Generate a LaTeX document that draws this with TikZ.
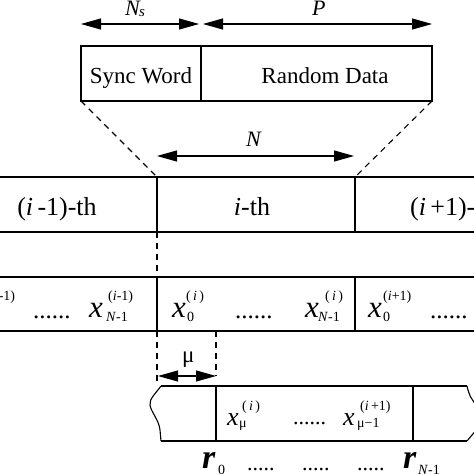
\documentclass[tikz,border=0pt]{standalone}
\usepackage{fontspec}
\setmainfont{Liberation Serif}
\usetikzlibrary{arrows.meta}
\begin{document}
\begin{tikzpicture}[x=1pt,y=-1pt,
  ln/.style={line width=1.1pt},
  dsh/.style={line width=1.1pt,dash pattern=on 6pt off 5pt},
  dimarrow/.style={line width=1.1pt,{Triangle[length=20pt,width=11pt]}-{Triangle[length=20pt,width=11pt]}},
  txt/.style={inner sep=0pt,anchor=base,font=\fontsize{23}{23}\selectfont},
  rowtxt/.style={inner sep=0pt,anchor=base,font=\fontsize{26}{26}\selectfont},
  lab/.style={inner sep=0pt,anchor=base west,font=\fontsize{22}{22}\selectfont\itshape},
  big/.style={inner sep=0pt,anchor=base west,font=\fontsize{31}{31}\selectfont\itshape},
  mid/.style={inner sep=0pt,anchor=base west,font=\fontsize{26}{26}\selectfont\itshape},
  scr/.style={inner sep=0pt,anchor=base west,font=\fontsize{14}{14}\selectfont},
  rr/.style={inner sep=0pt,anchor=base west,font=\fontsize{34}{34}\selectfont\bfseries\itshape},
  dots/.style={inner sep=0pt,anchor=base west,font=\fontsize{#1}{#1}\selectfont},
]
\useasboundingbox (0,0) rectangle (474,474);
\fill[white] (0,0) rectangle (474,474);

% ---------- top frame ----------
\node[draw,ln,minimum width=120pt,minimum height=55pt,inner sep=0pt,outer sep=0pt,anchor=north west] (sync) at (81,46) {};
\node[draw,ln,minimum width=231pt,minimum height=55pt,inner sep=0pt,outer sep=0pt,anchor=north west] (data) at (201,46) {};
\node[txt] (synct) at (141,83) {Sync Word};
\node[txt] (datat) at (325,83) {Random Data};

% dimension arrows on top
\coordinate (ns1) at (81,24);
\coordinate (ns2) at (199,24);
\coordinate (p1) at (203,24);
\coordinate (p2) at (432,24);
\draw[dimarrow] (ns1) -- (ns2);
\draw[dimarrow] (p1) -- (p2);
\node[lab] (nsl) at (125,15) {N};
\node[inner sep=0pt,anchor=base west,font=\fontsize{15}{15}\selectfont\itshape] (nss) at (139,16) {s};
\node[lab] (pl) at (312,15) {P};

% ---------- row 1 : frames ----------
\coordinate (r1tl) at (0,177);
\coordinate (r1tr) at (474,177);
\coordinate (r1bl) at (0,232);
\coordinate (r1br) at (474,232);
\coordinate (a1) at (157,177);
\coordinate (a2) at (157,232);
\coordinate (b1) at (355,177);
\coordinate (b2) at (355,232);
\draw[ln] (r1tl) -- (r1tr);
\draw[ln] (r1bl) -- (r1br);
\draw[ln] (a1) -- (a2);
\draw[ln] (b1) -- (b2);
\draw[dsh] (sync.south west) -- (a1);
\draw[dsh] (data.south east) -- (b1);
\coordinate (n1) at (157,156);
\coordinate (n2) at (354,156);
\draw[dimarrow] (n1) -- (n2);
\node[lab] (nl) at (246,146) {N};
\node[rowtxt] (f1) at (57,215) {(\textit{i}\,-1)-th};
\node[rowtxt] (f2) at (252,215) {\textit{i}-th};
\node[rowtxt,anchor=base west] (f3) at (410,215) {(\textit{i}\,+1)-th};

% ---------- row 2 : symbols ----------
\coordinate (c1) at (157,277);
\coordinate (c2) at (157,331);
\coordinate (d1) at (355,277);
\coordinate (d2) at (355,331);
\coordinate (r2tl) at (0,277);
\coordinate (r2tr) at (474,277);
\coordinate (r2bl) at (0,331);
\coordinate (r2br) at (474,331);
\draw[dsh] (a2) -- (c1);
\draw[ln] (r2tl) -- (r2tr);
\draw[ln] (r2bl) -- (r2br);
\draw[ln] (c1) -- (c2);
\draw[ln] (d1) -- (d2);

\node[big] (xa) at (-29,317) {x};
\node[scr] (xas) at (-10,300) {(\textit{i}-1)};
\node[scr] (xab) at (-10,321) {0};
\node[dots=25] (dt1) at (33,318) {......};
\node[big] (xb) at (89,317) {x};
\node[scr] (xbs) at (108,300) {(\textit{i}-1)};
\node[scr] (xbb) at (106,321) {\textit{N}-1};
\node[big] (xc) at (172,317) {x};
\node[scr] (xcs) at (186,300) {(\,\textit{i}\,)};
\node[scr] (xcb) at (187,321) {0};
\node[dots=25] (dt2) at (235,318) {......};
\node[big] (xd) at (305,317) {x};
\node[scr] (xds) at (325,300) {(\,\textit{i}\,)};
\node[scr] (xdb) at (318,321) {\textit{N}-1};
\node[big] (xe) at (368,317) {x};
\node[scr] (xes) at (383,300) {(\textit{i}+1)};
\node[scr] (xeb) at (383,321) {0};
\node[dots=25] (dt3) at (430,318) {......};

% ---------- mu offset ----------
\coordinate (e1) at (157,382);
\coordinate (g1) at (216,331);
\coordinate (g2) at (216,376);
\draw[dsh] (c2) -- (e1);
\draw[dsh] (g1) -- (g2);
\coordinate (m1) at (158,376);
\draw[dimarrow] (m1) -- (g2);
\node[inner sep=0pt,anchor=base west,font=\fontsize{23}{23}\selectfont] (mul) at (182,362) {μ};

% ---------- received frame ----------
\coordinate (ftl) at (161,386);
\coordinate (ftr) at (467,386);
\coordinate (fbl) at (161,441);
\coordinate (fbr) at (467,441);
\coordinate (h1) at (216,386);
\coordinate (h2) at (216,441);
\coordinate (k1) at (413,386);
\coordinate (k2) at (413,441);
\draw[ln] (ftl) -- (ftr);
\draw[ln] (fbl) -- (fbr);
\draw[ln] (h1) -- (h2);
\draw[ln] (k1) -- (k2);
\draw[ln] (ftl) .. controls (156,393) and (149,399) .. (150,405)
      .. controls (151,412) and (159,420) .. (160,430) -- (fbl);
\coordinate (rb1) at (477,405);
\coordinate (rb2) at (477,429);
\draw[ln] (ftr) .. controls (469,395) and (472,401) .. (rb1);
\draw[ln] (fbr) -- (rb2);

\node[mid] (ya) at (227,425) {x};
\node[scr] (yas) at (242,410) {(\,\textit{i}\,)};
\node[scr] (yab) at (239,427) {μ};
\node[dots=22] (dt4) at (293,424) {......};
\node[mid] (yb) at (343,425) {x};
\node[scr] (ybs) at (360,410) {(\textit{i}\,+1)};
\node[scr] (ybb) at (357,427) {μ−1};

% ---------- r samples ----------
\node[rr] (ra) at (202,468) {r};
\node[scr] (rab) at (218,474) {0};
\node[dots=22] (dt5) at (247,470) {.....};
\node[dots=22] (dt6) at (302,470) {.....};
\node[dots=22] (dt7) at (357,470) {.....};
\node[rr] (rb) at (403,468) {r};
\node[scr] (rbb) at (418,474) {\textit{N}-1};
\end{tikzpicture}
\end{document}
